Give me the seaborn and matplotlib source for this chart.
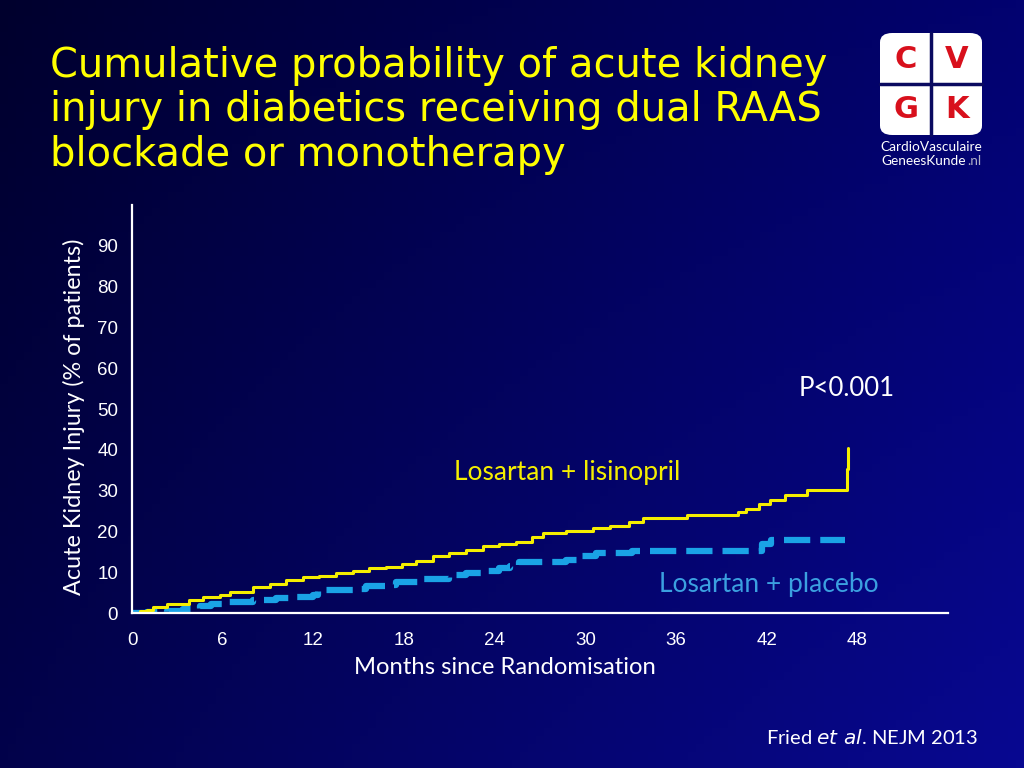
import numpy as np
import pandas as pd
import seaborn as sns
import matplotlib.pyplot as plt
from matplotlib.patches import FancyBboxPatch

# Kaplan-Meier style step data (months, cumulative %)
lis_months = [0, 0.5, 1.0, 1.4, 2.3, 3.8, 4.7, 5.8, 6.5, 8.0, 9.1, 10.2, 11.3, 12.4,
              13.5, 14.6, 15.7, 16.8, 17.9, 18.8, 19.9, 21.0, 22.1, 23.2, 24.3, 25.4,
              26.5, 27.2, 28.7, 30.5, 31.6, 32.9, 33.8, 36.7, 40.1, 40.6, 41.5, 42.2,
              43.2, 44.7, 47.3, 47.35]
lis_values = [0, 0.4, 0.8, 1.4, 2.1, 3.2, 4.0, 4.5, 5.2, 6.3, 7.1, 8.0, 8.8, 9.1,
              9.8, 10.2, 11.0, 11.3, 12.0, 12.7, 14.0, 14.6, 15.4, 16.4, 17.0, 17.5,
              18.6, 19.6, 20.0, 20.8, 21.4, 22.4, 23.2, 24.0, 24.7, 25.5, 26.6, 27.6,
              28.8, 30.2, 35.2, 40.5]

pla_months = [0, 1.0, 2.3, 3.4, 4.5, 5.2, 6.0, 8.0, 9.5, 10.5, 12.0, 12.3, 14.6, 15.5,
              16.8, 17.5, 19.2, 21.0, 22.1, 23.2, 24.3, 25.0, 25.6, 28.7, 29.8, 30.7,
              32.0, 33.1, 41.7, 42.3, 47.2]
pla_values = [0, 0.2, 0.4, 1.0, 1.6, 2.1, 2.7, 3.2, 3.7, 4.0, 4.5, 5.6, 6.0, 6.5,
              6.8, 7.7, 8.4, 9.2, 9.8, 10.4, 11.0, 11.6, 12.6, 13.0, 13.9, 14.6,
              14.8, 15.2, 17.0, 18.0, 18.0]

x_ticks = [0, 6, 12, 18, 24, 30, 36, 42, 48]
y_ticks = [0, 10, 20, 30, 40, 50, 60, 70, 80, 90]

title = "Cumulative probability of acute kidney\ninjury in diabetics receiving dual RAAS\nblockade or monotherapy"

YELLOW = "#f5ee00"
BLUE = "#1aa3e6"
BLUE_TXT = "#3ba0e0"

sns.set_theme(style="white")
plt.rcParams['font.family'] = ['Lato', 'DejaVu Sans']

fig = plt.figure(figsize=(10.24, 7.68), dpi=100)

# background gradient
bg = fig.add_axes([0, 0, 1, 1])
h, w = 96, 128
u = np.linspace(0, 1, w)[None, :]
v = np.linspace(0, 1, h)[:, None]
tl, tr = np.array([0, 0, 45]), np.array([2, 2, 112])
bl, br = np.array([2, 2, 75]), np.array([8, 8, 145])
img = ((1 - u)[..., None] * (1 - v)[..., None] * tl + u[..., None] * (1 - v)[..., None] * tr
       + (1 - u)[..., None] * v[..., None] * bl + u[..., None] * v[..., None] * br) / 255
bg.imshow(img, aspect='auto', extent=[0, 1, 0, 1], origin='upper')
bg.set_axis_off()

ax = fig.add_axes([132 / 1024, 155 / 768, 816 / 1024, 408 / 768])
ax.set_facecolor("none")

df_lis = pd.DataFrame({"month": lis_months, "pct": lis_values})
df_pla = pd.DataFrame({"month": pla_months, "pct": pla_values})

sns.lineplot(data=df_pla, x="month", y="pct", ax=ax, color=BLUE, linewidth=4.5,
             estimator=None, sort=False, drawstyle="steps-post",
             linestyle=(0, (4.2, 1.6)))
sns.lineplot(data=df_lis, x="month", y="pct", ax=ax, color=YELLOW, linewidth=2.2,
             estimator=None, sort=False, drawstyle="steps-post")

ax.set_xlim(0, 54)
ax.set_ylim(0, 100)
ax.set_xticks(x_ticks)
ax.set_yticks(y_ticks)
for s in ["top", "right"]:
    ax.spines[s].set_visible(False)
for s in ["left", "bottom"]:
    ax.spines[s].set_color("white")
    ax.spines[s].set_linewidth(1.6)
ax.tick_params(axis="both", colors="white", direction="out", width=1.4,
               labelsize=13.5, labelfontfamily="Liberation Sans")
ax.tick_params(axis="x", length=8, pad=6)
ax.tick_params(axis="y", length=6, pad=4)
ax.set_xlabel("Months since Randomisation", color="white", fontsize=17.2)
ax.set_ylabel("Acute Kidney Injury (% of patients)", color="white", fontsize=16.8)
ax.xaxis.set_label_coords((505 - 132) / 816, -(668 - 613) / 408)
ax.yaxis.set_label_coords((74 - 132) / 816, (613 - 417) / 408)
ax.xaxis.label.set_va("center")
ax.yaxis.label.set_va("center")

ax.text(21.3, 34.5, "Losartan + lisinopril", color=YELLOW, fontsize=19, ha="left", va="center")
ax.text(34.9, 7, "Losartan + placebo", color=BLUE_TXT, fontsize=19, ha="left", va="center")
ax.text(44.1, 55, "P<0.001", color="white", fontsize=18.5, ha="left", va="center")

fig.text(50 / 1024, 1 - 46 / 768, title, color="#ffff00", fontsize=28.8,
         family="DejaVu Sans", ha="left", va="top", linespacing=1.14)

fig.text(978 / 1024, 1 - 738 / 768, "Fried $\\it{et\\ al}$. NEJM 2013", color="white",
         fontsize=14.5, ha="right", va="center")

# logo
lx0, ly0, lx1, ly1 = 880, 33, 982, 135
logo = FancyBboxPatch((lx0 / 1024, 1 - ly1 / 768), (lx1 - lx0) / 1024, (ly1 - ly0) / 768,
                      boxstyle="round,pad=0,rounding_size=0.012", transform=fig.transFigure,
                      facecolor="white", edgecolor="none")
fig.patches.append(logo)
cx, cy = 931 / 1024, 1 - 84 / 768
fig.add_artist(plt.Line2D([cx, cx], [1 - ly1 / 768, 1 - ly0 / 768], color="#0a0a60", lw=2.5))
fig.add_artist(plt.Line2D([lx0 / 1024, lx1 / 1024], [cy, cy], color="#0a0a60", lw=2.5))
for letter, px, py in [("C", 906, 59), ("V", 957, 59), ("G", 906, 110), ("K", 957, 110)]:
    fig.text(px / 1024, 1 - py / 768, letter, color="#d8101c", fontsize=22,
             fontweight="bold", family="DejaVu Sans", ha="center", va="center")
fig.text(931 / 1024, 1 - 151 / 768, "CardioVasculaire", color="white", fontsize=9.8,
         ha="center", va="baseline")
gk = fig.text(881 / 1024, 1 - 165 / 768, "GeneesKunde", color="white", fontsize=9.8,
              ha="left", va="baseline")
bg.annotate(".nl", xy=(1, 0), xycoords=gk, color="#b0b0c8", fontsize=9.8,
            ha="left", va="bottom", xytext=(1, 0), textcoords="offset points")

fig.savefig("out.png", dpi=100, facecolor="#000040")
